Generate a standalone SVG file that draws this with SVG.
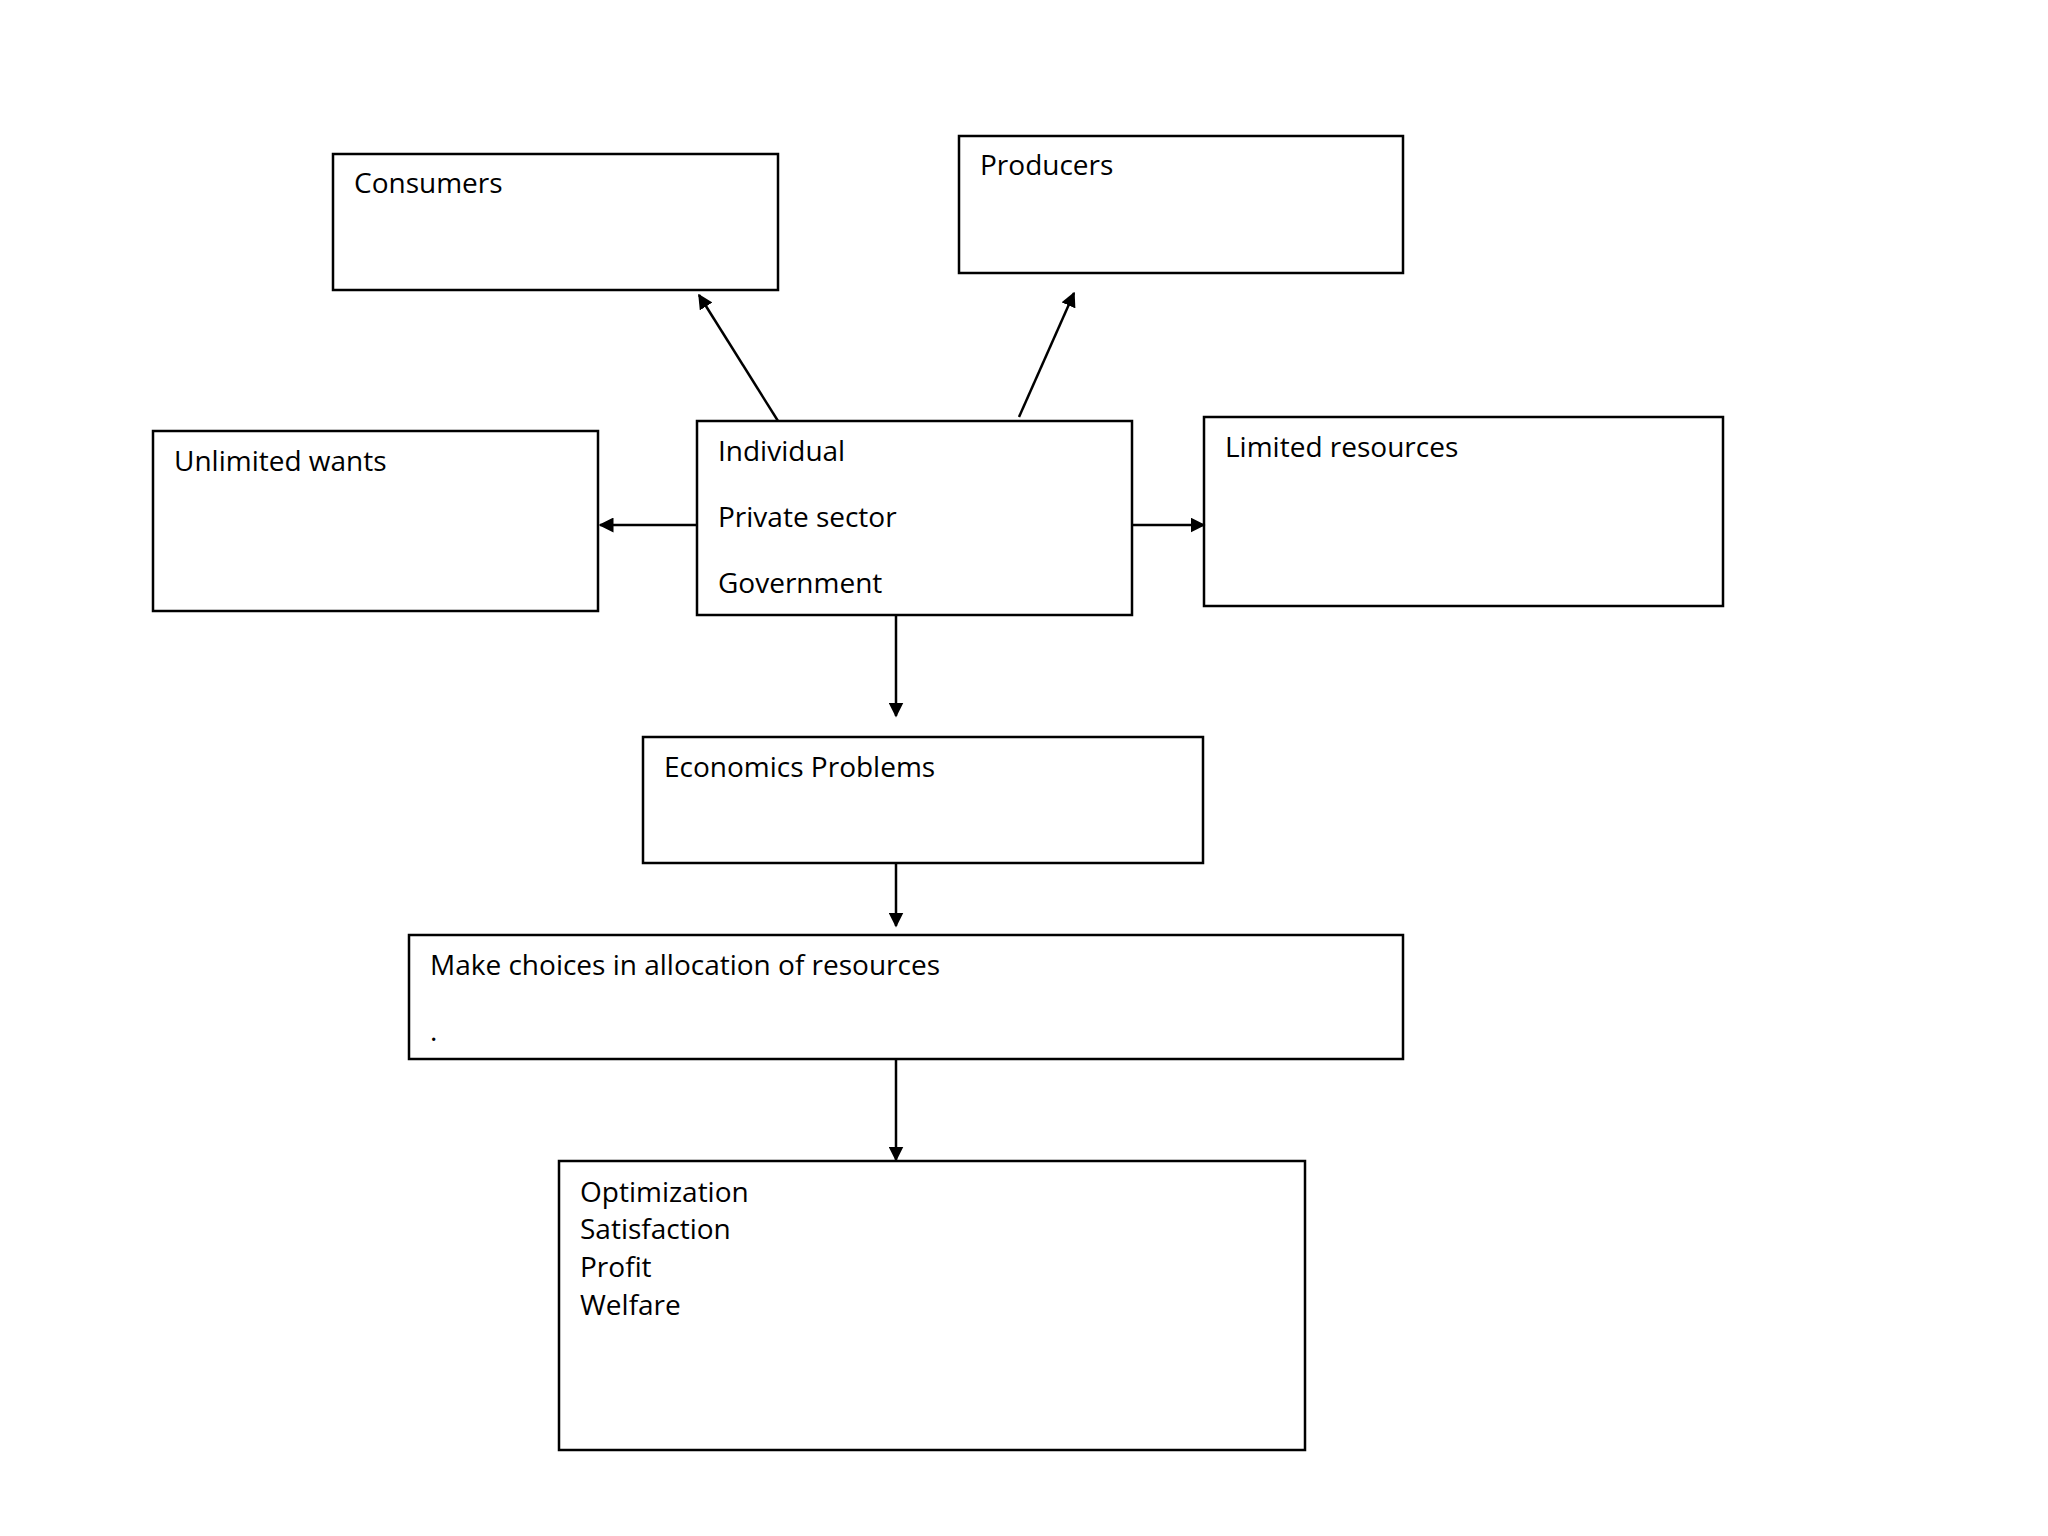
<svg xmlns="http://www.w3.org/2000/svg" width="2048" height="1536" viewBox="0 0 2048 1536">
<style>
rect{fill:#fff;stroke:#000;stroke-width:2.5}
text{font-family:"Open Sans","Liberation Sans",sans-serif;font-size:28px;fill:#000}
.c{stroke:#000;stroke-width:2.5;fill:none;marker-end:url(#a)}
</style>
<defs><marker id="a" viewBox="0 0 10 10" refX="9" refY="5" markerWidth="6" markerHeight="6" orient="auto" markerUnits="strokeWidth"><path d="M0,0L10,5L0,10z" fill="#000"/></marker></defs>
<rect x="0" y="0" width="2048" height="1536" style="stroke:none"/>
<g id="consumers"><rect x="333" y="154" width="445" height="136"/><text x="354" y="193">Consumers</text></g>
<g id="producers"><rect x="959" y="136" width="444" height="137"/><text x="980" y="175">Producers</text></g>
<g id="unlimited"><rect x="153" y="431" width="445" height="180"/><text x="174" y="471">Unlimited wants</text></g>
<g id="center"><rect x="697" y="421" width="435" height="194"/><text x="718" y="461">Individual</text><text x="718" y="527">Private sector</text><text x="718" y="593">Government</text></g>
<g id="limited"><rect x="1204" y="417" width="519" height="189"/><text x="1225" y="457">Limited resources</text></g>
<g id="econ"><rect x="643" y="737" width="560" height="126"/><text x="664" y="777">Economics Problems</text></g>
<g id="make"><rect x="409" y="935" width="994" height="124"/><text x="430" y="975">Make choices in allocation of resources</text><text x="430" y="1041">.</text></g>
<g id="opt"><rect x="559" y="1161" width="746" height="289"/><text x="580" y="1202">Optimization</text><text x="580" y="1239">Satisfaction</text><text x="580" y="1277">Profit</text><text x="580" y="1315">Welfare</text></g>
<g id="connectors">
<line class="c" x1="778" y1="421" x2="699" y2="295"/>
<line class="c" x1="1019" y1="417" x2="1074" y2="293"/>
<line class="c" x1="697" y1="525" x2="600" y2="525"/>
<line class="c" x1="1132" y1="525" x2="1204" y2="525"/>
<line class="c" x1="896" y1="615" x2="896" y2="716"/>
<line class="c" x1="896" y1="863" x2="896" y2="926"/>
<line class="c" x1="896" y1="1059" x2="896" y2="1160"/>
</g>
</svg>
